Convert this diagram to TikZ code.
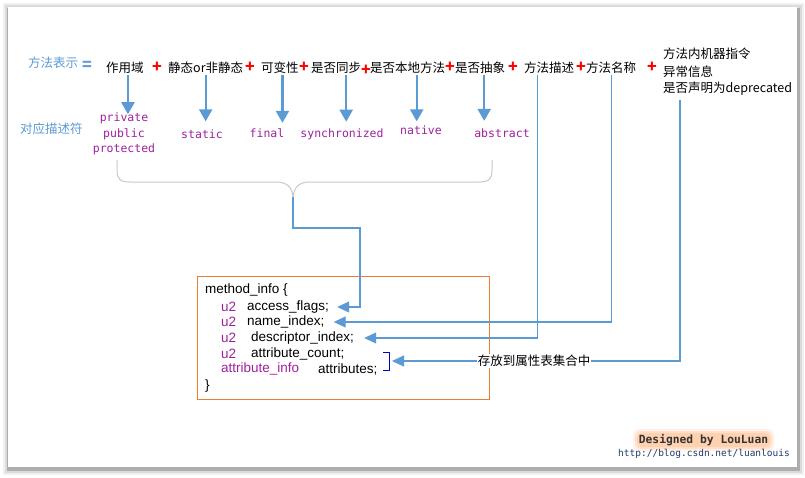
\documentclass[tikz,border=0pt]{standalone}
\usepackage{fontspec}
\setmainfont{Noto Sans CJK SC}
\newfontfamily\monof{DejaVu Sans Mono}
\newfontfamily\boxf{Liberation Sans}
\usetikzlibrary{arrows.meta,calc}
\definecolor{myblue}{RGB}{91,155,213}
\definecolor{mypurple}{RGB}{160,32,160}
\definecolor{boxorange}{RGB}{237,125,49}
\definecolor{bracketc}{RGB}{0,0,210}
\definecolor{bracegray}{RGB}{200,200,200}
\definecolor{glowc}{RGB}{255,165,95}
\definecolor{urlc}{RGB}{31,58,110}
\definecolor{credc}{RGB}{51,51,51}
\begin{document}
\begin{tikzpicture}[x=1pt,y=-1pt,
  txt/.style={anchor=west,inner sep=0pt,font=\fontsize{12.5}{15}\selectfont},
  plus/.style={inner sep=0pt,text=red,font=\fontsize{16}{16}\selectfont\bfseries},
  mono/.style={inner sep=0pt,text=mypurple,font=\monof\fontsize{11.5}{14}\selectfont},
  bigarrow/.style={myblue,line width=2.2pt,-{Triangle[width=13pt,length=12pt]}},
  conn/.style={myblue,line width=1.1pt,-{Triangle[width=11pt,length=12pt]}},
  code/.style={anchor=west,inner sep=0pt,font=\boxf\fontsize{13.5}{15}\selectfont},
  glowbox/.style={fill=glowc,rounded corners=6pt},
]
\useasboundingbox (0,0) rectangle (805,477);
% page with shadow
\fill[black!6] (3,3) rectangle (804,475);
\fill[black!14] (5,5) rectangle (802,473);
\fill[black!32] (7,8) rectangle (800,471);
\fill[white] (8,7) rectangle (797,467);

% top row
\node[txt,text=myblue] (fbs) at (28,63) {方法表示};
\node[inner sep=0pt,text=myblue,font=\fontsize{16}{16}\selectfont\bfseries] (eq) at (87,66) {=};
\node[txt] (zyy) at (106,68) {作用域};
\node[plus] (p1) at (157,67) {+};
\node[txt] (jt) at (168,68) {静态or非静态};
\node[plus] (p2) at (250,67) {+};
\node[txt] (kbx) at (261,68) {可变性};
\node[plus] (p3) at (304,67) {+};
\node[txt] (sftb) at (311,68) {是否同步};
\node[plus] (p4) at (366,70) {+};
\node[txt] (bdff) at (370,68) {是否本地方法};
\node[plus] (p5) at (450,67) {+};
\node[txt] (cx) at (455,68) {是否抽象};
\node[plus] (p6) at (513,67) {+};
\node[txt] (ffms) at (524,68) {方法描述};
\node[plus] (p7) at (581,67) {+};
\node[txt] (ffmc) at (586,68) {方法名称};
\node[plus] (p8) at (652,67) {+};
\node[txt] (jq) at (663,54) {方法内机器指令};
\node[txt] (yc) at (663,72) {异常信息};
\node[txt] (dep) at (663,89) {是否声明为deprecated};

% descriptor row
\node[txt,text=myblue] (dyms) at (20,129) {对应描述符};
\node[mono] (priv) at (124,118) {private};
\node[mono] (pub) at (124,134) {public};
\node[mono] (prot) at (124,149) {protected};
\node[mono] (stat) at (202,134) {static};
\node[mono] (fin) at (267,133) {final};
\node[mono] (syn) at (342,134) {synchronized};
\node[mono] (nat) at (421,130) {native};
\node[mono] (abs) at (502,133) {abstract};

% big arrows
\draw[bigarrow,shorten >=-2pt] ([xshift=3pt,yshift=-1pt]zyy.south) -- ([xshift=3pt]zyy.south |- priv.north);
\draw[bigarrow,shorten >=8pt] ([yshift=-1pt]jt.south) -- (jt.south |- stat.north);
\draw[bigarrow,shorten >=5.5pt] ([xshift=2.5pt,yshift=-1pt]kbx.south) -- ([xshift=2.5pt]kbx.south |- fin.north);
\draw[bigarrow,shorten >=6.5pt] ([xshift=10pt,yshift=-1pt]sftb.south) -- ([xshift=10pt]sftb.south |- syn.north);
\draw[bigarrow,shorten >=4pt] ([xshift=9pt,yshift=-1pt]bdff.south) -- ([xshift=9pt]bdff.south |- nat.north);
\draw[bigarrow,shorten >=7.5pt] ([xshift=4pt,yshift=-1pt]cx.south) -- ([xshift=4pt]cx.south |- abs.north);

% brace
\coordinate (bt) at (293,197);
\draw[bracegray,line width=1pt] (117,160) -- (117,170) .. controls (117,179) and (120,182) .. (130,182) -- (276,182) .. controls (288,182) and (292,188) .. (bt);
\draw[bracegray,line width=1pt] (bt) .. controls (294,188) and (298,182) .. (310,182) -- (479,182) .. controls (489,182) and (492,179) .. (492,170) -- (492,160);

% code box
\node[draw=boxorange,line width=1pt,minimum width=292pt,minimum height=123pt,anchor=north west,inner sep=0pt] (box) at (197,276) {};
\node[code] (mi) at (205,290) {method\_info \{};
\node[code,text=mypurple] (u1) at (221,307) {u2};
\node[code] (af) at (247,307) {access\_flags;};
\node[code,text=mypurple] (u2b) at (221,322) {u2};
\node[code] (ni) at (247,322) {name\_index;};
\node[code,text=mypurple] (u3) at (221,338) {u2};
\node[code] (di) at (251,338) {descriptor\_index;};
\node[code,text=mypurple] (u4) at (221,354) {u2};
\node[code] (ac) at (251,354) {attribute\_count;};
\node[code,text=mypurple] (ai) at (221,369) {attribute\_info};
\node[code] (at) at (318,369) {attributes;};
\node[code] (cb) at (205,386) {\}};

% bracket
\draw[bracketc,line width=1pt] (383,352) -- (389,352) -- (389,370) -- (383,370);
\coordinate (bk) at (389,361);

% connectors
\coordinate (k1) at (360,228);
\draw[conn] (bt) |- (k1) |- ([xshift=8pt]af.east);
\draw[conn] ([xshift=-12pt,yshift=-1pt]ffms.south) |- ([xshift=10pt]di.east);
\draw[conn] ([yshift=-1pt]ffmc.south) |- ([xshift=9pt]ni.east);
\draw[conn] ([xshift=17pt,yshift=-4pt]dep.south west) |- ([xshift=3pt]bk);
\node[fill=white,inner sep=1pt,font=\fontsize{12.5}{15}\selectfont] (lbl) at (534,361) {存放到属性表集合中};

% credits
\fill[glowbox,opacity=0.15] (633,429) rectangle (774,451);
\fill[glowbox,opacity=0.2] (635,431) rectangle (772,449);
\fill[glowbox,opacity=0.25] (637,433) rectangle (770,447);
\node[inner sep=0pt,text=credc,font=\monof\bfseries\fontsize{11.3}{13}\selectfont] (cred) at (703.5,440) {Designed by LouLuan};
\node[inner sep=0pt,text=urlc,font=\monof\fontsize{9.5}{11}\selectfont] (url) at (704,454) {http://blog.csdn.net/luanlouis};
\end{tikzpicture}
\end{document}
